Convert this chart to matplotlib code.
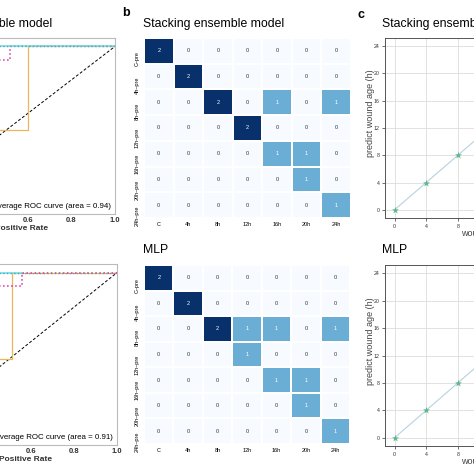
import matplotlib
matplotlib.use('Agg')
import matplotlib.pyplot as plt
import numpy as np

plt.rcParams['font.family'] = ['Liberation Sans', 'DejaVu Sans']

# ---------------- data ----------------
# ROC (panel a, partly visible)
roc_top_yellow_fpr = [0.0, 0.0, 0.6, 0.6, 1.0]
roc_top_yellow_tpr = [0.0, 0.5, 0.5, 1.0, 1.0]
roc_top_magenta_fpr = [0.0, 0.0, 0.52, 0.52, 1.0]
roc_top_magenta_tpr = [0.0, 0.92, 0.92, 1.0, 1.0]
roc_top_cyan_fpr = [0.0, 0.0, 1.0]
roc_top_cyan_tpr = [0.0, 1.0, 1.0]
roc_top_auc = 0.94

roc_bot_yellow_fpr = [0.0, 0.0, 0.51, 0.51, 1.0]
roc_bot_yellow_tpr = [0.0, 0.5, 0.5, 1.0, 1.0]
roc_bot_magenta_fpr = [0.0, 0.0, 0.56, 0.56, 1.0]
roc_bot_magenta_tpr = [0.0, 0.92, 0.92, 1.0, 1.0]
roc_bot_cyan_fpr = [0.0, 0.0, 0.56]
roc_bot_cyan_tpr = [0.0, 1.0, 1.0]
roc_bot_auc = 0.91

roc_xticks = [0.0, 0.2, 0.4, 0.6, 0.8, 1.0]

# Confusion matrices (panel b)
cm_xlabels = ['C', '4h', '8h', '12h', '16h', '20h', '24h']
cm_ylabels = ['C\u2013pre', '4h\u2013pre', '8h\u2013pre', '12h\u2013pre',
              '16h\u2013pre', '20h\u2013pre', '24h\u2013pre']
cm_stacking = [[2, 0, 0, 0, 0, 0, 0],
               [0, 2, 0, 0, 0, 0, 0],
               [0, 0, 2, 0, 1, 0, 1],
               [0, 0, 0, 2, 0, 0, 0],
               [0, 0, 0, 0, 1, 1, 0],
               [0, 0, 0, 0, 0, 1, 0],
               [0, 0, 0, 0, 0, 0, 1]]
cm_mlp = [[2, 0, 0, 0, 0, 0, 0],
          [0, 2, 0, 0, 0, 0, 0],
          [0, 0, 2, 1, 1, 0, 1],
          [0, 0, 0, 1, 0, 0, 0],
          [0, 0, 0, 0, 1, 1, 0],
          [0, 0, 0, 0, 0, 1, 0],
          [0, 0, 0, 0, 0, 0, 1]]

# Wound age prediction (panel c, partly visible)
age_actual = [0, 4, 8]
age_pred_stacking = [0, 4, 8]
age_pred_mlp = [0, 4, 8]
fit_x = [0, 24]
fit_y = [0, 24]
age_ticks = [0, 4, 8, 12, 16, 20, 24]

# ---------------- figure ----------------
W = H = 474
fig = plt.figure(figsize=(4.74, 4.74), dpi=100)


def add_ax(l, t, r, b):
    return fig.add_axes([l / W, 1 - b / H, (r - l) / W, (b - t) / H])


def draw_roc(ax, yf, yt, mf, mt, cf, ct, auc):
    ax.plot([0, 1], [0, 1], 'k--', lw=0.7, dashes=(3, 2))
    ax.plot(yf, yt, color='#e9b85a', lw=0.9)
    ax.plot(mf, mt, color='#e0309a', lw=1.1, ls=':')
    ax.plot(cf, ct, color='#6fe3ea', lw=1.2)
    ax.plot([0, 1], [1, 1], color='#5f9fb5', lw=1.0, ls=':')
    h, = ax.plot([], [], color='navy', lw=1.0, ls=':')
    ax.set_xlim(0, 1)
    ax.set_ylim(0, 1.05)
    ax.set_xticks(roc_xticks)
    ax.set_yticks([])
    ax.tick_params(axis='x', labelsize=5.5, length=0, pad=2.5,
                   labelcolor='#333333')
    for lab in ax.get_xticklabels():
        lab.set_fontweight('bold')
    ax.set_xlabel('False Positive Rate', fontsize=6, fontweight='bold',
                  color='#333333', labelpad=1)
    ax.xaxis.set_label_coords(0.518, -0.06)
    for s in ax.spines.values():
        s.set_color('#bbbbbb')
        s.set_linewidth(0.8)
    ax.legend([h], ['macro-average ROC curve (area = %.2f)' % auc],
              loc='lower right', fontsize=5.7, frameon=False,
              borderaxespad=0.1, handlelength=2)


def draw_cm(ax, cm):
    cm = np.array(cm)
    n = cm.shape[0]
    ax.pcolormesh(np.arange(n + 1), np.arange(n + 1), cm, cmap='Blues',
                  vmin=0, vmax=2, edgecolors='white', linewidth=1.2)
    ax.set_xlim(0, n)
    ax.set_ylim(n, 0)
    for i in range(n):
        for j in range(n):
            v = cm[i, j]
            ax.text(j + 0.5, i + 0.5, str(v), ha='center', va='center',
                    fontsize=4, color='white' if v > 0 else '#333333')
    ax.set_xticks(np.arange(n) + 0.5)
    ax.set_xticklabels(cm_xlabels, fontsize=4)
    ax.set_yticks(np.arange(n) + 0.5)
    ax.set_yticklabels(cm_ylabels, fontsize=4, rotation=90, va='top')
    ax.tick_params(length=0, pad=3)
    for s in ax.spines.values():
        s.set_visible(False)


def draw_age(ax, x, y):
    ax.plot(fit_x, fit_y, color='#b7d2df', lw=0.8, zorder=2)
    ax.scatter(x, y, marker='*', s=28, color='#5db88c', zorder=3,
               linewidths=0)
    ax.set_xlim(-1.2, 25.2)
    ax.set_ylim(-1.2, 25.2)
    ax.set_xticks(age_ticks)
    ax.set_yticks(age_ticks)
    ax.grid(True, color='#dddddd', lw=0.6)
    ax.set_axisbelow(True)
    ax.tick_params(labelsize=3.8, length=2, width=0.5, pad=2,
                   color='#333333', labelcolor='#333333')
    ax.set_ylabel('predict wound age (h)', fontsize=6.5, color='#444444')
    ax.yaxis.set_label_coords(-0.048, 0.58)
    ax.set_xlabel('wound age (h)', fontsize=6.5, labelpad=0.5,
                  color='#444444')
    for s in ax.spines.values():
        s.set_color('#555555')
        s.set_linewidth(0.7)


# panel a (ROC)
ax = add_ax(-103, 38, 115, 214)
draw_roc(ax, roc_top_yellow_fpr, roc_top_yellow_tpr, roc_top_magenta_fpr,
         roc_top_magenta_tpr, roc_top_cyan_fpr, roc_top_cyan_tpr, roc_top_auc)
ax = add_ax(-98, 264, 117, 445)
draw_roc(ax, roc_bot_yellow_fpr, roc_bot_yellow_tpr, roc_bot_magenta_fpr,
         roc_bot_magenta_tpr, roc_bot_cyan_fpr, roc_bot_cyan_tpr, roc_bot_auc)
fig.text(52 / W, 1 - 24 / H, 'Stacking ensemble model', ha='right',
         va='center', fontsize=8.8)

# panel b (confusion matrices)
ax = add_ax(144, 38, 351, 218)
draw_cm(ax, cm_stacking)
ax = add_ax(144, 265, 350, 444)
draw_cm(ax, cm_mlp)
fig.text(143 / W, 1 - 24 / H, 'Stacking ensemble model', ha='left',
         va='center', fontsize=8.8)
fig.text(143 / W, 1 - 250 / H, 'MLP', ha='left', va='center', fontsize=8.8)
fig.text(126 / W, 1 - 13 / H, 'b', ha='center', va='center', fontsize=9,
         fontweight='bold')

# panel c (wound age)
ax = add_ax(385, 38, 594, 218)
draw_age(ax, age_actual, age_pred_stacking)
ax = add_ax(385, 265, 594, 446)
draw_age(ax, age_actual, age_pred_mlp)
fig.text(382 / W, 1 - 24 / H, 'Stacking ensemble model', ha='left',
         va='center', fontsize=8.8)
fig.text(382 / W, 1 - 250 / H, 'MLP', ha='left', va='center', fontsize=8.8)
fig.text(361 / W, 1 - 15 / H, 'c', ha='center', va='center', fontsize=9,
         fontweight='bold')

fig.savefig('out.png', dpi=100)
